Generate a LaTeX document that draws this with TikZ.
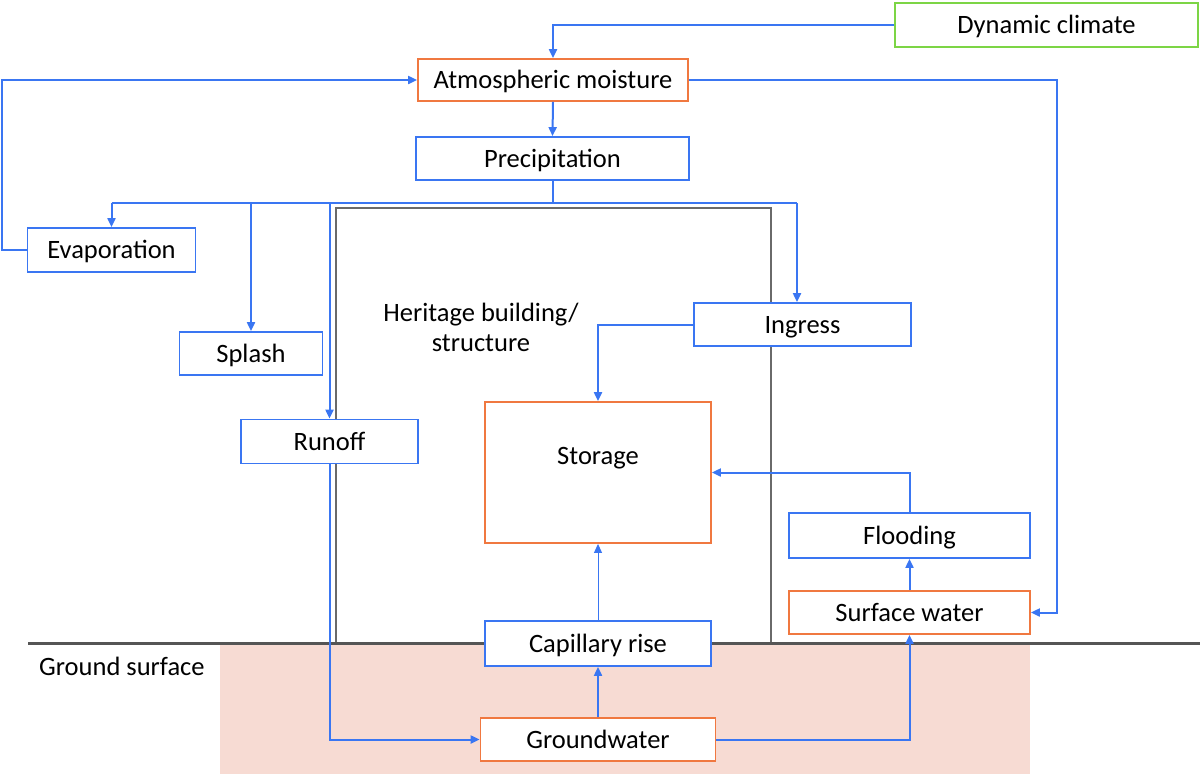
\documentclass[tikz,border=0pt]{standalone}
\usepackage{fontspec}
\setmainfont{Carlito}
\usetikzlibrary{arrows.meta}
\definecolor{cblue}{HTML}{3A76F2}
\definecolor{corange}{HTML}{F07840}
\definecolor{cgreen}{HTML}{7CD545}
\definecolor{cpink}{HTML}{F7DBD3}
\definecolor{cwall}{HTML}{6A6A6A}
\definecolor{cground}{HTML}{555555}
\tikzset{
  box/.style={draw=cblue, fill=white, line width=1.8pt, inner sep=0pt, align=center,
    text height=19pt, text depth=2pt,
    font=\fontsize{26.5}{30}\selectfont},
  obox/.style={box, draw=corange},
  gbox/.style={box, draw=cgreen},
  lbl/.style={inner sep=0pt, align=center, font=\fontsize{26.5}{30}\selectfont},
  flow/.style={draw=cblue, line width=2pt, -{Triangle[length=9pt,width=8pt]}},
  plain/.style={draw=cblue, line width=2pt},
  thinflow/.style={draw=cblue, line width=1pt, -{Triangle[length=9pt,width=8pt]}},
  wall/.style={draw=cwall, line width=2.2pt},
  ground/.style={draw=cground, line width=3pt}
}
\begin{document}
\begin{tikzpicture}[x=1pt,y=-1pt]
\useasboundingbox (0,0) rectangle (1200,774);
% soil
\fill[cpink] (220,644) rectangle (1030,774);
% building
\draw[wall] (336,643) -- (336,208) -- (771,208) -- (771,643);
% ground
\draw[ground] (28,643) -- (1200,643);
\node[lbl, anchor=west] (groundlbl) at (39,666) {Ground surface};
\node[lbl] (heritage) at (481,327) {Heritage building/\\structure};

% nodes
\node[gbox, minimum width=303pt, minimum height=44pt] (dyn) at (1046.5,25) {Dynamic climate};
\node[obox, minimum width=270pt, minimum height=42pt] (atm) at (553,80) {Atmospheric moisture};
\node[box, minimum width=273pt, minimum height=43pt] (prec) at (552.5,158.5) {Precipitation};
\node[box, minimum width=168pt, minimum height=44pt] (evap) at (111.5,250) {Evaporation};
\node[box, minimum width=143pt, minimum height=43pt] (splash) at (251,353.5) {Splash};
\node[box, minimum width=177pt, minimum height=44pt] (runoff) at (329.5,441.5) {Runoff};
\node[box, minimum width=217pt, minimum height=43pt] (ingress) at (802.5,324.5) {Ingress};
\node[obox, minimum width=226pt, minimum height=141pt] (storage) at (598,472.5) {};
\node[lbl] (storagelbl) at (598,458) {Storage};
\node[box, minimum width=241pt, minimum height=45pt] (flood) at (909.5,535.5) {Flooding};
\node[obox, minimum width=241pt, minimum height=43pt] (surf) at (909.5,612.5) {Surface water};
\node[box, minimum width=226pt, minimum height=45pt] (cap) at (598,643.5) {Capillary rise};
\node[obox, minimum width=235pt, minimum height=43pt] (gw) at (598,739.5) {Groundwater};

% coordinates
\coordinate (rightc) at (1057,80);
\coordinate (leftc) at (1.5,250);
\coordinate (bus) at (552.5,203);
\coordinate (busL) at (111.5,203);
\coordinate (busR) at (797,203);
\coordinate (ingc) at (598,324.5);

% connectors
\draw[flow] (dyn.west) -| (atm.north);
\draw[flow] (atm.south) -- (prec.north);
\draw[flow] (atm.east) -- (rightc) |- (surf.east);
\draw[flow] (evap.west) -- (leftc) |- (atm.west);
\draw[plain] (prec.south) -- (bus);
\draw[plain] (busL) -- (busR);
\draw[flow] (busL) -- (evap.north);
\draw[flow] (splash.north |- busL) -- (splash.north);
\draw[flow] (runoff.north |- busL) -- (runoff.north);
\draw[flow] (busR) -- (busR |- ingress.north);
\draw[flow] (ingress.west) -- (ingc) -- (storage.north);
\draw[thinflow] (cap.north) -- (storage.south);
\draw[flow] (gw.north) -- (cap.south);
\draw[flow] (runoff.south) |- (gw.west);
\draw[flow] (gw.east) -| (surf.south);
\draw[flow] (surf.north) -- (flood.south);
\draw[flow] (flood.north) |- (storage.east);
\end{tikzpicture}
\end{document}
